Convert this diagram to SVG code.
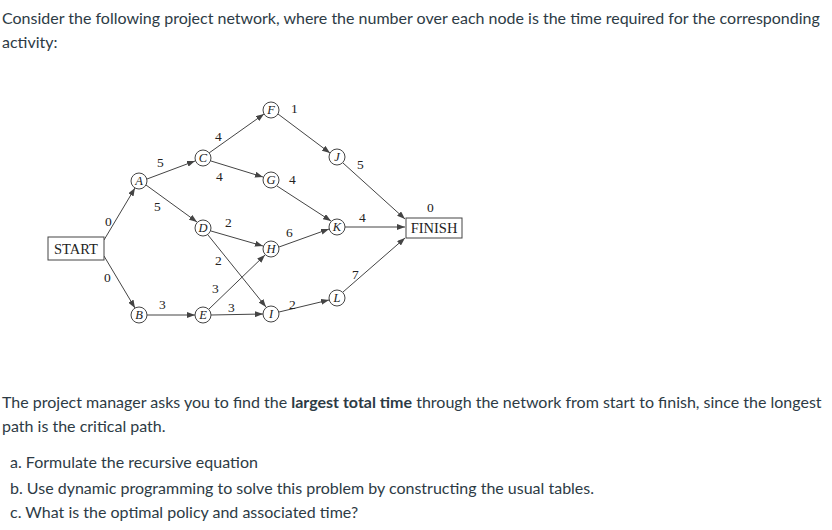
<svg xmlns="http://www.w3.org/2000/svg" width="832" height="530" viewBox="0 0 832 530">
<style>
.t{font-family:Lato,"Liberation Sans",sans-serif;font-size:16px;fill:#2d3b45}
.n circle{fill:#fff;stroke:#444;stroke-width:1}
.n text,.l{font-family:"Liberation Serif",serif;font-size:13.5px;fill:#222}
.n text{font-style:italic;text-anchor:middle;font-size:12.5px}
.b rect{fill:#fff;stroke:#444;stroke-width:1}
.b text{font-family:"Liberation Serif",serif;font-size:14.5px;fill:#222;text-anchor:middle}
.e line{stroke:#444;stroke-width:1;marker-end:url(#a)}
</style>
<defs><marker id="a" viewBox="0 0 8 6" refX="8" refY="3" markerWidth="8" markerHeight="6" orient="auto" markerUnits="userSpaceOnUse"><path d="M0,0L8,3L0,6z" fill="#444"/></marker></defs>
<rect width="832" height="530" fill="#fff"/>
<text class="t" x="2" y="24">Consider the following project network, where the number over each node is the time required for the corresponding</text>
<text class="t" x="2" y="48">activity:</text>
<g class="e">
<line x1="104" y1="240" x2="135" y2="188"/>
<line x1="104" y1="256" x2="135" y2="308"/>
<line x1="147" y1="179" x2="195" y2="161"/>
<line x1="146" y1="185" x2="197" y2="222"/>
<line x1="147" y1="315" x2="195" y2="315"/>
<line x1="209" y1="153" x2="264" y2="114"/>
<line x1="211" y1="161" x2="263" y2="177"/>
<line x1="211" y1="231" x2="263" y2="246"/>
<line x1="208" y1="235" x2="266" y2="307"/>
<line x1="209" y1="309" x2="265" y2="255"/>
<line x1="211" y1="315" x2="263" y2="314"/>
<line x1="278" y1="114" x2="330" y2="153"/>
<line x1="277" y1="186" x2="331" y2="221"/>
<line x1="279" y1="247" x2="329" y2="229"/>
<line x1="279" y1="312" x2="329" y2="300"/>
<line x1="343" y1="163" x2="405" y2="219"/>
<line x1="345" y1="227" x2="405" y2="227"/>
<line x1="343" y1="292" x2="405" y2="238"/>
</g>
<g class="b" id="start"><rect x="48" y="237" width="56" height="23"/><text x="76" y="254">START</text></g>
<g class="b" id="finish"><rect x="406" y="218" width="56" height="20"/><text x="434" y="233">FINISH</text></g>
<g class="n" id="A"><circle cx="139" cy="181" r="8"/><text x="139" y="185">A</text></g>
<g class="n" id="B"><circle cx="139" cy="315" r="8"/><text x="139" y="319">B</text></g>
<g class="n" id="C"><circle cx="203" cy="158" r="8"/><text x="203" y="162">C</text></g>
<g class="n" id="D"><circle cx="203" cy="228" r="8"/><text x="203" y="232">D</text></g>
<g class="n" id="E"><circle cx="203" cy="315" r="8"/><text x="203" y="319">E</text></g>
<g class="n" id="F"><circle cx="271" cy="110" r="8"/><text x="271" y="114">F</text></g>
<g class="n" id="G"><circle cx="271" cy="180" r="8"/><text x="271" y="184">G</text></g>
<g class="n" id="H"><circle cx="271" cy="249" r="8"/><text x="271" y="253">H</text></g>
<g class="n" id="I"><circle cx="271" cy="314" r="8"/><text x="271" y="318">I</text></g>
<g class="n" id="J"><circle cx="337" cy="157" r="8"/><text x="337" y="161">J</text></g>
<g class="n" id="K"><circle cx="337" cy="227" r="8"/><text x="337" y="231">K</text></g>
<g class="n" id="L"><circle cx="337" cy="298" r="8"/><text x="337" y="302">L</text></g>
<g class="l">
<text x="105" y="226" class="l">0</text><text x="104" y="282" class="l">0</text>
<text x="157" y="167" class="l">5</text><text x="154" y="211" class="l">5</text>
<text x="215" y="141" class="l">4</text><text x="216" y="181" class="l">4</text>
<text x="225" y="227" class="l">2</text><text x="215" y="265" class="l">2</text>
<text x="212" y="293" class="l">3</text><text x="228" y="312" class="l">3</text>
<text x="159" y="309" class="l">3</text>
<text x="291" y="113" class="l">1</text><text x="289" y="184" class="l">4</text>
<text x="286" y="237" class="l">6</text><text x="357" y="169" class="l">5</text>
<text x="359" y="222" class="l">4</text><text x="427" y="212" class="l">0</text>
<text x="289" y="309" class="l">2</text><text x="352" y="279" class="l">7</text>
</g>
<text class="t" x="2" y="408">The project manager asks you to find the <tspan font-weight="bold">largest total time</tspan> through the network from start to finish, since the longest</text>
<text class="t" x="2" y="432">path is the critical path.</text>
<text class="t" x="10" y="468">a. Formulate the recursive equation</text>
<text class="t" x="10" y="494">b. Use dynamic programming to solve this problem by constructing the usual tables.</text>
<text class="t" x="10" y="518">c. What is the optimal policy and associated time?</text>
</svg>
